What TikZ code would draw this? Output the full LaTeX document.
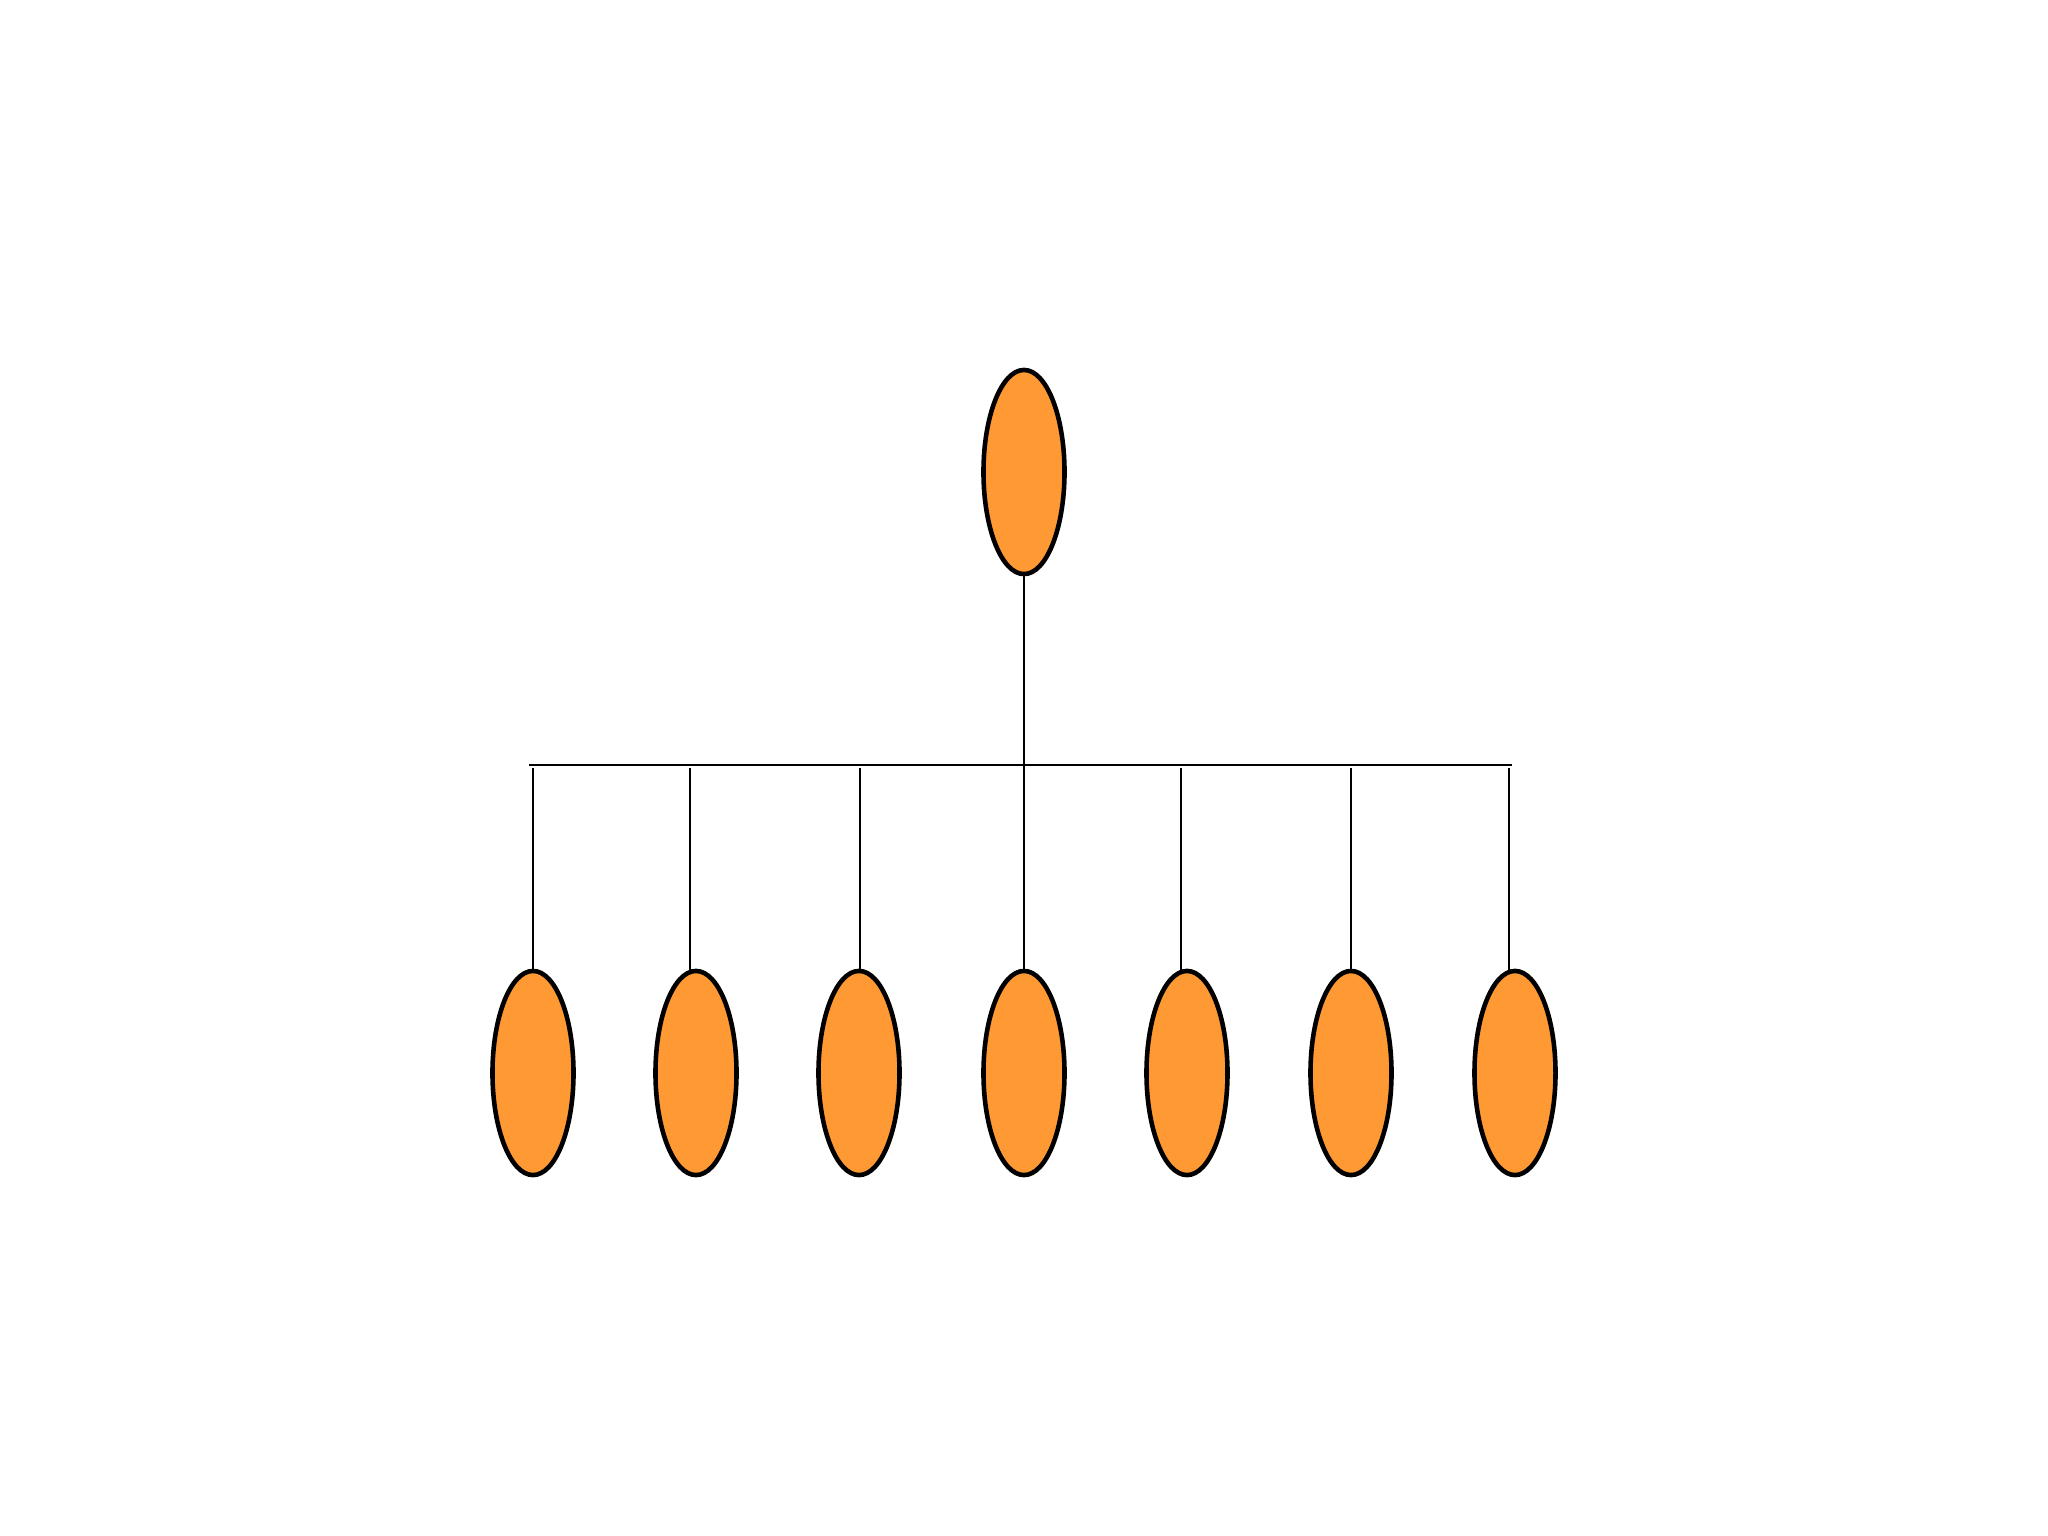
\documentclass[tikz,border=0pt]{standalone}
\usetikzlibrary{shapes.geometric}
\definecolor{podfill}{HTML}{FF9933}
\begin{document}
\begin{tikzpicture}[x=0.01cm,y=-0.01cm,
  pod/.style={ellipse,draw=black,fill=podfill,line width=1.3pt,minimum width=0.81cm,minimum height=2.04cm,inner sep=0pt,outer sep=0pt},
  link/.style={draw=black,line width=0.6pt}]
\useasboundingbox[fill=white] (0,0) rectangle (2048,1536);
\node[pod] (top) at (1024,472) {};
\node[pod] (b1) at (533,1073) {};
\node[pod] (b2) at (696,1073) {};
\node[pod] (b3) at (859,1073) {};
\node[pod] (b4) at (1024,1073) {};
\node[pod] (b5) at (1187,1073) {};
\node[pod] (b6) at (1351,1073) {};
\node[pod] (b7) at (1515,1073) {};
\coordinate (barL) at (529,765);
\coordinate (barR) at (1512,765);
\coordinate (d1) at (533,768);
\coordinate (d2) at (690,768);
\coordinate (d3) at (860,768);
\coordinate (d5) at (1181,768);
\coordinate (d6) at (1351,768);
\coordinate (d7) at (1509,768);
\draw[link] (barL) -- (barR);
\draw[link] (top.south) -- (b4.north);
\draw[link] (d1) -- (d1 |- b1.north);
\draw[link] (d2) -- (d2 |- b2.north);
\draw[link] (d3) -- (d3 |- b3.north);
\draw[link] (d5) -- (d5 |- b5.north);
\draw[link] (d6) -- (d6 |- b6.north);
\draw[link] (d7) -- (d7 |- b7.north);
\end{tikzpicture}
\end{document}
